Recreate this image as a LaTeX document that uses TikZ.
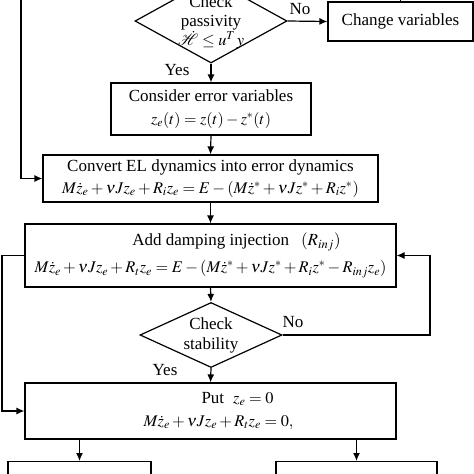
\documentclass[tikz,border=0pt]{standalone}
\usepackage{mathptmx}
\usepackage{fontspec}
\setmainfont{Liberation Serif}
\usetikzlibrary{shapes.geometric,arrows.meta,calc}
\newcommand{\fm}{\fontsize{16.3}{23}\selectfont}
\begin{document}
\begin{tikzpicture}[x=1pt,y=-1pt,
  font=\fontsize{17}{23}\selectfont,
  box/.style={draw,line width=1.2pt,inner sep=0pt,align=center},
  dia/.style={draw,diamond,line width=1.2pt,inner sep=0pt},
  arr/.style={line width=1.2pt,-{Latex[length=8pt,width=7pt]}},
  ln/.style={line width=1.2pt}]
\useasboundingbox (0,0) rectangle (474,474);
\clip (0,0) rectangle (474,474);
% passivity diamond
\node[dia,minimum width=152pt,minimum height=84pt] (pas) at (211,21) {};
\node[align=center] (pastext) at (211,22) {Check\\[-4pt]passivity\\[-4pt]{\fm$\dot{\mathcal{H}}\le u^T\,y$}};
\node[box,minimum width=145pt,minimum height=39pt] (chg) at (400.5,21.5) {Change variables};
\coordinate (chgtop) at (400.5,-10);
\draw[ln] (chg.north) -- (chgtop);
\draw[arr] (pas.east) -- (chg.west);
\node (no1) at (300,9) {No};
% consider
\node[box,minimum width=200pt,minimum height=52pt] (cons) at (211,109) {Consider error variables\\{\fontsize{16}{23}\selectfont$z_e(t)=z(t)-z^*(t)$}};
\draw[arr] (pas.south) -- (cons.north);
\node (yes1) at (177,70) {Yes};
% convert
\node[box,minimum width=335pt,minimum height=47pt] (conv) at (210.5,178.5) {Convert EL dynamics into error dynamics\\[-1pt]{\fm$M\dot z_e+\nu Jz_e+R_iz_e=E-(M\dot z^*+\nu Jz^*+R_iz^*)$}};
\draw[arr] (cons.south) -- (conv.north);
\coordinate (ltop) at (21,-10);
\draw[arr] (ltop) |- (conv.west);
% add damping
\node[box,minimum width=371pt,minimum height=63pt] (add) at (210.5,255.5) {\hspace*{52pt}Add damping injection\hspace{12pt}$(R_{inj})$\\[4pt]{\fm$M\dot z_e+\nu Jz_e+R_tz_e=E-(M\dot z^*+\nu Jz^*+R_iz^*-R_{inj}z_e)$}};
\draw[arr] (conv.south) -- (add.north);
% stability
\node[dia,minimum width=142pt,minimum height=65pt] (stab) at (211,335) {};
\node[align=center] (stabtext) at (211,335) {Check\\[-3pt]stability};
\draw[arr] (add.south) -- (stab.north);
\node (no2) at (293,322) {No};
\coordinate (rfb) at (430,255.5);
\draw[arr] (stab.east) -| (rfb) -- (add.east);
% put
\node[box,minimum width=371pt,minimum height=56pt] (put) at (210.5,411) {\hspace*{54pt}Put\hspace{9pt}{\fm$z_e=0$}\\\hspace*{16pt}{\fm$M\dot z_e+\nu Jz_e+R_tz_e=0,$}};
\draw[arr] (stab.south) -- (put.north);
\node (yes2) at (165,370) {Yes};
\coordinate (lfb) at (2,255.5);
\draw[arr] (add.west) -- (lfb) |- (put.west);
% bottom boxes
\node[box,minimum width=143pt,minimum height=40pt,anchor=north] (bl) at (79.5,461) {};
\node[box,minimum width=161pt,minimum height=40pt,anchor=north] (br) at (356.5,461) {};
\draw[arr] (put.south -| bl.north) -- (bl.north);
\draw[arr] (put.south -| br.north) -- (br.north);
\end{tikzpicture}
\end{document}
